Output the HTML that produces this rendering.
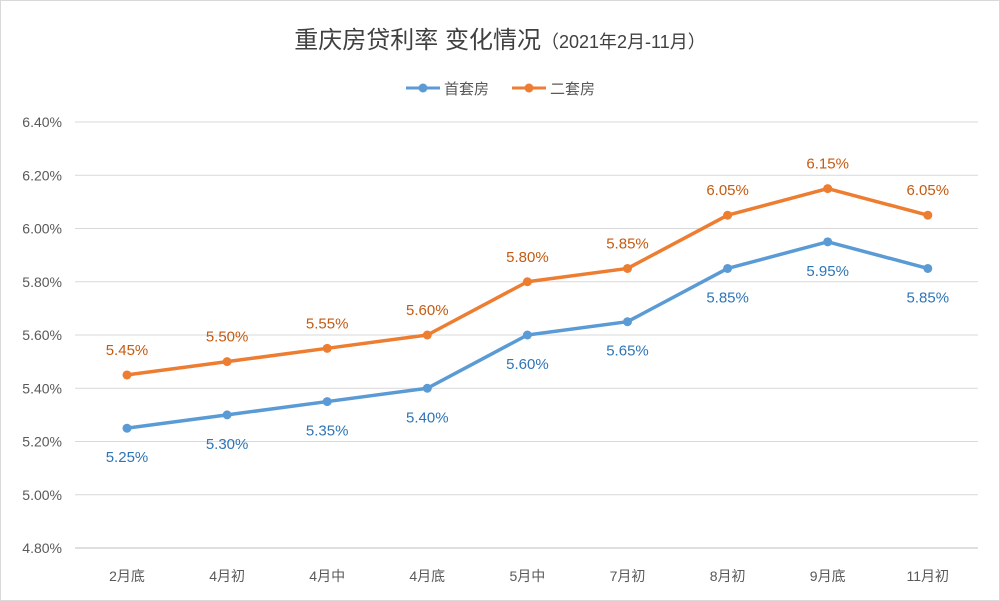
<!DOCTYPE html>
<html><head><meta charset="utf-8">
<style>
body{margin:0;background:#fff;}
svg{display:block;font-family:"Liberation Sans","Noto Sans CJK SC",sans-serif;}
</style></head>
<body>
<svg id="chart" width="1000" height="601" viewBox="0 0 1000 601">
<rect x="0.5" y="0.5" width="999" height="600" fill="#fff" stroke="#d9d9d9"/>
<text x="500" y="48" text-anchor="middle" font-size="24" fill="#404040">重庆房贷利率 变化情况<tspan font-size="18">（2021年2月-11月）</tspan></text>
<g>
<g>
<line x1="406" y1="88" x2="440" y2="88" stroke="#5B9BD5" stroke-width="3"/><circle cx="423" cy="88" r="4.5" fill="#5B9BD5"/>
<text x="444" y="94" font-size="15" fill="#595959">首套房</text></g>
<g>
<line x1="512" y1="88" x2="546" y2="88" stroke="#ED7D31" stroke-width="3"/><circle cx="529" cy="88" r="4.5" fill="#ED7D31"/>
<text x="550" y="94" font-size="15" fill="#595959">二套房</text></g>
</g>
<g id="grid"></g>
<g id="yaxis"></g>
<g id="xaxis"></g>
<g id="series"></g>
</svg>
<script>
const categories=["2月底","4月初","4月中","4月底","5月中","7月初","8月初","9月底","11月初"];
const firstHome=[5.25,5.30,5.35,5.40,5.60,5.65,5.85,5.95,5.85];
const secondHome=[5.45,5.50,5.55,5.60,5.80,5.85,6.05,6.15,6.05];
const yTicks=[4.80,5.00,5.20,5.40,5.60,5.80,6.00,6.20,6.40];
const NS="http://www.w3.org/2000/svg";
const L=75,R=978,yMin=4.8,yMax=6.4,yBot=548,yTop=122;
const y=v=>yBot-(v-yMin)/(yMax-yMin)*(yBot-yTop);
const step=100.1;
const x=i=>127+step*i;
function mk(tag,attrs,parent){const e=document.createElementNS(NS,tag);for(const k in attrs)e.setAttribute(k,attrs[k]);parent.appendChild(e);return e;}
const grid=document.getElementById('grid'),ya=document.getElementById('yaxis'),xa=document.getElementById('xaxis'),ser=document.getElementById('series');
yTicks.forEach(t=>{
 const g=mk('line',{x1:L,x2:R,y1:y(t),y2:y(t),stroke:t===yMin?'#bfbfbf':'#d9d9d9','stroke-width':1},grid);
 
 
 const tx=mk('text',{x:62,y:y(t)+5,'text-anchor':'end','font-size':14,fill:'#595959'},ya);
 tx.textContent=t.toFixed(2)+'%';
 
 
});
categories.forEach((c,i)=>{
 const tx=mk('text',{x:x(i),y:581,'text-anchor':'middle','font-size':14,fill:'#595959'},xa);
 tx.textContent=c;
 
 
});
function draw(data,color,labColor,off,name){
 const g=mk('g',{},ser);
 
 
 const p=mk('polyline',{points:data.map((v,i)=>x(i)+','+y(v)).join(' '),fill:'none',stroke:color,'stroke-width':3.5,'stroke-linejoin':'round'},g);
 
 
 data.forEach((v,i)=>{
  const c=mk('circle',{cx:x(i),cy:y(v),r:4.5,fill:color},g);
  
  
  const t=mk('text',{x:x(i),y:y(v)+off,'text-anchor':'middle','font-size':15,fill:labColor},g);
  t.textContent=v.toFixed(2)+'%';
  
  
 });
}
draw(firstHome,'#5B9BD5','#2E75B6',34,'first-home-series');
draw(secondHome,'#ED7D31','#C55A11',-20,'second-home-series');
</script>
</body></html>
